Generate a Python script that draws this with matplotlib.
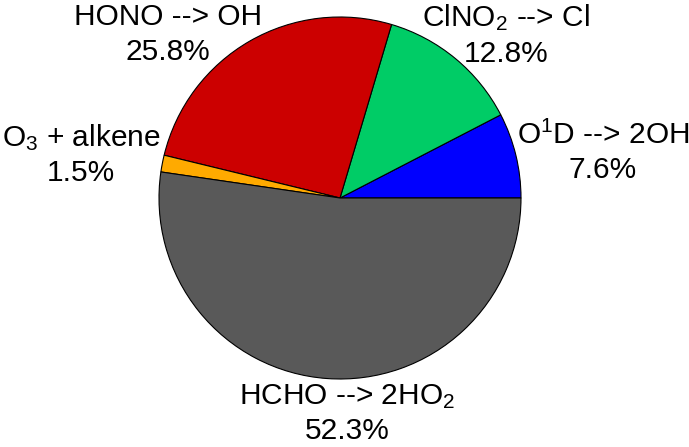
import numpy as np
import matplotlib
matplotlib.use("Agg")
import matplotlib.pyplot as plt

plt.rcParams['font.family'] = ['Liberation Sans', 'DejaVu Sans']
plt.rcParams['mathtext.fontset'] = 'custom'
plt.rcParams['mathtext.rm'] = 'Liberation Sans'
plt.rcParams['mathtext.it'] = 'Liberation Sans'

# slices, counter-clockwise from 3 o'clock
names = ['O$^1$D --> 2OH', 'ClNO$_2$ --> Cl', 'HONO --> OH',
         'O$_3$ + alkene', 'HCHO --> 2HO$_2$']
shares = [7.6, 12.8, 25.8, 1.5, 52.3]
colors = ['#0000ff', '#00cc66', '#cc0000', '#ffaa00', '#595959']

# label block centres (pie radius = 1)
label_xy = [(1.453, 0.251), (0.917, 0.90), (-0.950, 0.903),
            (-1.431, 0.240), (0.039, -1.191)]

fig = plt.figure(figsize=(6.89, 4.47), dpi=100)
ax = fig.add_axes([(340 - 181) / 689, (447 - 198 - 181) / 447, 362 / 689, 362 / 447])

ax.pie(shares, colors=colors, startangle=0, counterclock=True, radius=1,
       wedgeprops=dict(edgecolor='black', linewidth=0.8))
ax.set_xlim(-1, 1)
ax.set_ylim(-1, 1)
ax.set_aspect('auto')
ax.axis('off')

for name, val, (x, y) in zip(names, shares, label_xy):
    ax.text(x, y, name + '\n' + f'{val:.1f}%', ha='center', va='center',
            fontsize=21.5, linespacing=1.28, clip_on=False)

fig.savefig('out.png', dpi=100, facecolor='white')
